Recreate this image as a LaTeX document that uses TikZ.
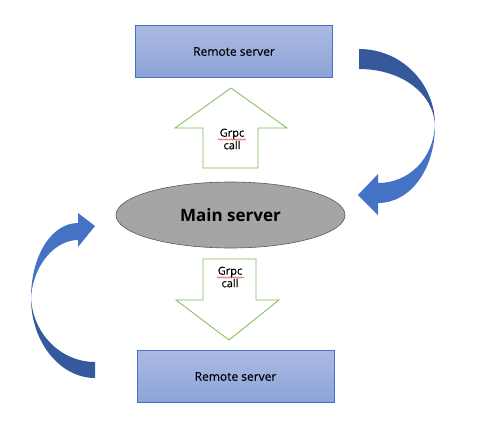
\documentclass[tikz,border=0pt]{standalone}
\usepackage{fontspec}
\setmainfont{Open Sans}
\newfontfamily\medfont[FakeBold=0.35]{Open Sans}
\usetikzlibrary{decorations.pathmorphing,shapes.geometric}
\definecolor{boxtop}{HTML}{ABBAE2}
\definecolor{boxbot}{HTML}{8CA3D8}
\definecolor{boxline}{HTML}{4472C4}
\definecolor{ellfill}{HTML}{A5A5A5}
\definecolor{ellline}{HTML}{5A5A5A}
\definecolor{grn}{HTML}{7DB957}
\definecolor{arrdark}{HTML}{36599C}
\definecolor{arrlight}{HTML}{4472C4}
\definecolor{spell}{HTML}{E03030}
\begin{document}
\begin{tikzpicture}[x=1pt,y=-1pt,
  serverbox/.style={draw=boxline,line width=0.8pt,top color=boxtop,bottom color=boxbot,
    minimum width=197pt,minimum height=52pt,inner sep=0pt,font=\medfont\fontsize{12}{13}\selectfont},
  mainell/.style={ellipse,draw=ellline,line width=0.6pt,fill=ellfill,minimum width=229pt,
    minimum height=66pt,inner sep=0pt,font=\fontsize{17}{18}\selectfont\bfseries},
  blockarrow/.style={draw=grn,line width=0.8pt,fill=white,line join=miter},
  calltext/.style={align=center,inner sep=0pt,font=\medfont\fontsize{11}{12.5}\selectfont},
  squiggle/.style={spell,line width=0.45pt,decorate,decoration={snake,amplitude=0.7pt,segment length=2.5pt}},
  backpart/.style={fill=arrdark,draw=none},
  frontpart/.style={fill=arrlight,draw=none}]
\useasboundingbox (0,0) rectangle (501,429);
% servers
\node[serverbox] (top) at (234,51.5) {Remote server};
\node[serverbox] (bot) at (235.5,376.5) {Remote server};
% up block arrow
\draw[blockarrow] (231,88) -- (287,128) -- (258,128) -- (258,168) -- (203,168) -- (203,128) -- (175,128) -- cycle;
\node[calltext] (upcall) at (232,139) {Grpc\\call};
\draw[squiggle] (218,139.5) -- (246,139.5);
% down block arrow
\draw[blockarrow] (203,259) -- (256,259) -- (256,300) -- (279,300) -- (229,340) -- (176,300) -- (203,300) -- cycle;
\node[calltext] (downcall) at (230,277) {Grpc\\call};
\draw[squiggle] (217,277.5) -- (244,277.5);
% main server
\node[mainell] (main) at (230.5,215) {Main server};
% right curved arrow
\path[backpart] (359,49) .. controls (402,49) and (435,84) .. (435,125)
  .. controls (433,92) and (400,69) .. (359,69) -- cycle;
\path[frontpart] (435,125) .. controls (435,170) and (410,203) .. (378,203)
  -- (378,215) -- (358,195) -- (378,174) -- (378,183)
  .. controls (408,183) and (433,160) .. (435,125) -- cycle;
% left curved arrow
\path[backpart] (31,298) .. controls (31,342) and (60,378) .. (95,378)
  -- (95,362) .. controls (62,362) and (33,335) .. (31,298) -- cycle;
\path[frontpart] (31,298) .. controls (31,255) and (52,223) .. (78,223)
  -- (78,213) -- (95,226) -- (78,247) -- (78,240)
  .. controls (55,240) and (33,265) .. (31,298) -- cycle;
\end{tikzpicture}
\end{document}
